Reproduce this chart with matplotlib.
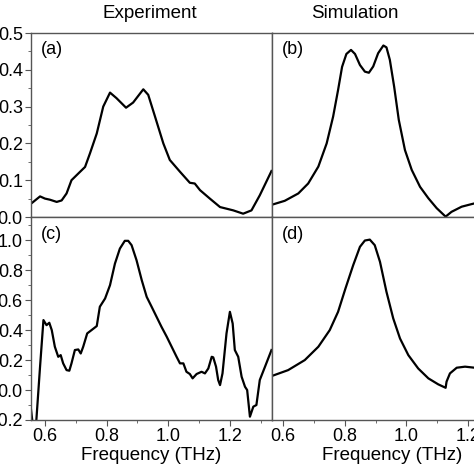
import matplotlib
matplotlib.use("Agg")
import matplotlib.pyplot as plt
from matplotlib.ticker import MultipleLocator

plt.rcParams['font.family'] = ['Liberation Sans', 'DejaVu Sans']

# (a) experiment, top
FREQ_A = [0.553, 0.584, 0.600, 0.616, 0.638, 0.654, 0.670, 0.686, 0.714, 0.730,
          0.746, 0.768, 0.789, 0.811, 0.832, 0.863, 0.886, 0.919, 0.935, 0.957,
          0.984, 1.005, 1.038, 1.070, 1.086, 1.103, 1.135, 1.168, 1.211, 1.243,
          1.270, 1.297, 1.335]
VAL_A = [0.035, 0.056, 0.050, 0.047, 0.041, 0.045, 0.064, 0.100, 0.123, 0.136,
         0.173, 0.227, 0.300, 0.338, 0.323, 0.297, 0.311, 0.347, 0.332, 0.273,
         0.200, 0.155, 0.123, 0.093, 0.091, 0.073, 0.050, 0.027, 0.018, 0.009,
         0.018, 0.059, 0.125]

# (b) simulation, top
FREQ_B = [0.562, 0.605, 0.649, 0.681, 0.714, 0.741, 0.762, 0.778, 0.791, 0.805,
          0.820, 0.833, 0.849, 0.865, 0.878, 0.892, 0.908, 0.925, 0.935, 0.946,
          0.960, 0.975, 0.995, 1.017, 1.044, 1.071, 1.098, 1.127, 1.146, 1.179,
          1.211, 1.221, 1.344]
VAL_B = [0.033, 0.044, 0.064, 0.091, 0.137, 0.200, 0.273, 0.345, 0.408, 0.443,
         0.454, 0.443, 0.413, 0.395, 0.392, 0.409, 0.445, 0.466, 0.461, 0.427,
         0.354, 0.264, 0.182, 0.128, 0.082, 0.051, 0.024, 0.001, 0.014, 0.028,
         0.035, 0.037, 0.045]

# (c) experiment, bottom
FREQ_C = [0.553, 0.562, 0.570, 0.584, 0.595, 0.605, 0.614, 0.622, 0.632, 0.643,
          0.651, 0.659, 0.670, 0.679, 0.686, 0.697, 0.708, 0.716, 0.724, 0.737,
          0.751, 0.768, 0.778, 0.795, 0.811, 0.827, 0.843, 0.859, 0.870, 0.881,
          0.897, 0.914, 0.930, 0.946, 0.962, 0.978, 0.995, 1.011, 1.027, 1.038,
          1.049, 1.059, 1.070, 1.079, 1.092, 1.108, 1.119, 1.130, 1.141, 1.146,
          1.155, 1.162, 1.168, 1.176, 1.189, 1.200, 1.209, 1.216, 1.227, 1.238,
          1.249, 1.256, 1.265, 1.276, 1.286, 1.297, 1.314, 1.335]
VAL_C = [-0.10, -0.26, -0.26, 0.156, 0.467, 0.433, 0.449, 0.400, 0.289, 0.222,
         0.233, 0.178, 0.133, 0.129, 0.178, 0.267, 0.271, 0.244, 0.289, 0.378,
         0.400, 0.427, 0.556, 0.611, 0.700, 0.844, 0.944, 0.996, 0.996, 0.967,
         0.867, 0.733, 0.622, 0.556, 0.489, 0.422, 0.356, 0.289, 0.222, 0.178,
         0.178, 0.122, 0.107, 0.078, 0.107, 0.122, 0.111, 0.144, 0.222, 0.218,
         0.156, 0.067, 0.033, 0.111, 0.378, 0.522, 0.444, 0.267, 0.222, 0.089,
         0.022, 0.000, -0.178, -0.111, -0.100, 0.067, 0.156, 0.267]

# (d) simulation, bottom
FREQ_D = [0.562, 0.616, 0.670, 0.714, 0.751, 0.778, 0.802, 0.827, 0.849, 0.865,
          0.881, 0.897, 0.914, 0.935, 0.957, 0.979, 1.006, 1.038, 1.071, 1.103,
          1.127, 1.130, 1.141, 1.163, 1.190, 1.221, 1.344]
VAL_D = [0.093, 0.133, 0.200, 0.289, 0.400, 0.522, 0.678, 0.833, 0.956, 0.998,
         1.004, 0.967, 0.856, 0.656, 0.478, 0.344, 0.233, 0.144, 0.078, 0.038,
         0.015, 0.056, 0.111, 0.149, 0.156, 0.149, 0.140]

TITLES = ["Experiment", "Simulation"]
XLABEL = "Frequency (THz)"
LETTERS = ["(a)", "(b)", "(c)", "(d)"]

SPINE = "#555555"
W, H = 474, 474


def px_axes(fig, x0, x1, y0, y1):
    # pixel box (top-left origin) -> figure fraction
    return fig.add_axes([x0 / W, 1 - y1 / H, (x1 - x0) / W, (y1 - y0) / H])


fig = plt.figure(figsize=(4.74, 4.74), dpi=100)

ax_a = px_axes(fig, 30.5, 271.5, 33, 217)
ax_b = px_axes(fig, 271.5, 512.5, 33, 217)
ax_c = px_axes(fig, 30.5, 271.5, 217, 420)
ax_d = px_axes(fig, 271.5, 512.5, 217, 420)

panels = [(ax_a, FREQ_A, VAL_A), (ax_b, FREQ_B, VAL_B),
          (ax_c, FREQ_C, VAL_C), (ax_d, FREQ_D, VAL_D)]

for i, (ax, f, v) in enumerate(panels):
    ax.plot(f, v, color="black", lw=1.6, solid_joinstyle="round")
    for s in ax.spines.values():
        s.set_color(SPINE)
        s.set_linewidth(1.0)
    ax.tick_params(which="both", direction="out", color=SPINE,
                   labelsize=13, top=False, right=False, pad=1.5)
    ax.tick_params(which="major", length=4)
    ax.tick_params(which="minor", length=2.5)
    ax.text(0.045, 0.955, LETTERS[i], transform=ax.transAxes,
            fontsize=13, va="top", ha="left")

for ax in (ax_a, ax_c):
    ax.set_xlim(0.553, 1.335)
for ax in (ax_b, ax_d):
    ax.set_xlim(0.562, 1.344)

for ax in (ax_a, ax_b):
    ax.set_ylim(0, 0.5)
    ax.yaxis.set_major_locator(MultipleLocator(0.1))
    ax.yaxis.set_minor_locator(MultipleLocator(0.05))
    ax.tick_params(axis="x", which="both", bottom=False, labelbottom=False)

for ax in (ax_c, ax_d):
    ax.set_ylim(-0.2, 1.155)
    ax.yaxis.set_major_locator(MultipleLocator(0.2))
    ax.yaxis.set_minor_locator(MultipleLocator(0.1))
    ax.xaxis.set_major_locator(MultipleLocator(0.2))
    ax.xaxis.set_minor_locator(MultipleLocator(0.1))
    ax.set_xlabel(XLABEL, fontsize=13.5, labelpad=2)

for ax in (ax_b, ax_d):
    ax.tick_params(axis="y", which="both", left=False, labelleft=False)

ax_a.yaxis.set_major_formatter(lambda y, p: f"{y:.1f}")
ax_c.yaxis.set_major_formatter(lambda y, p: f"{y:.1f}".replace("-", "\u2212"))
ax_c.xaxis.set_major_formatter(lambda x, p: f"{x:.1f}")
ax_d.xaxis.set_major_formatter(lambda x, p: f"{x:.1f}")

fig.text(150 / W, 1 - 14 / H, TITLES[0], fontsize=13.5, ha="center", va="center")
fig.text(355 / W, 1 - 14 / H, TITLES[1], fontsize=13.5, ha="center", va="center")

fig.savefig("out.png", dpi=100)
